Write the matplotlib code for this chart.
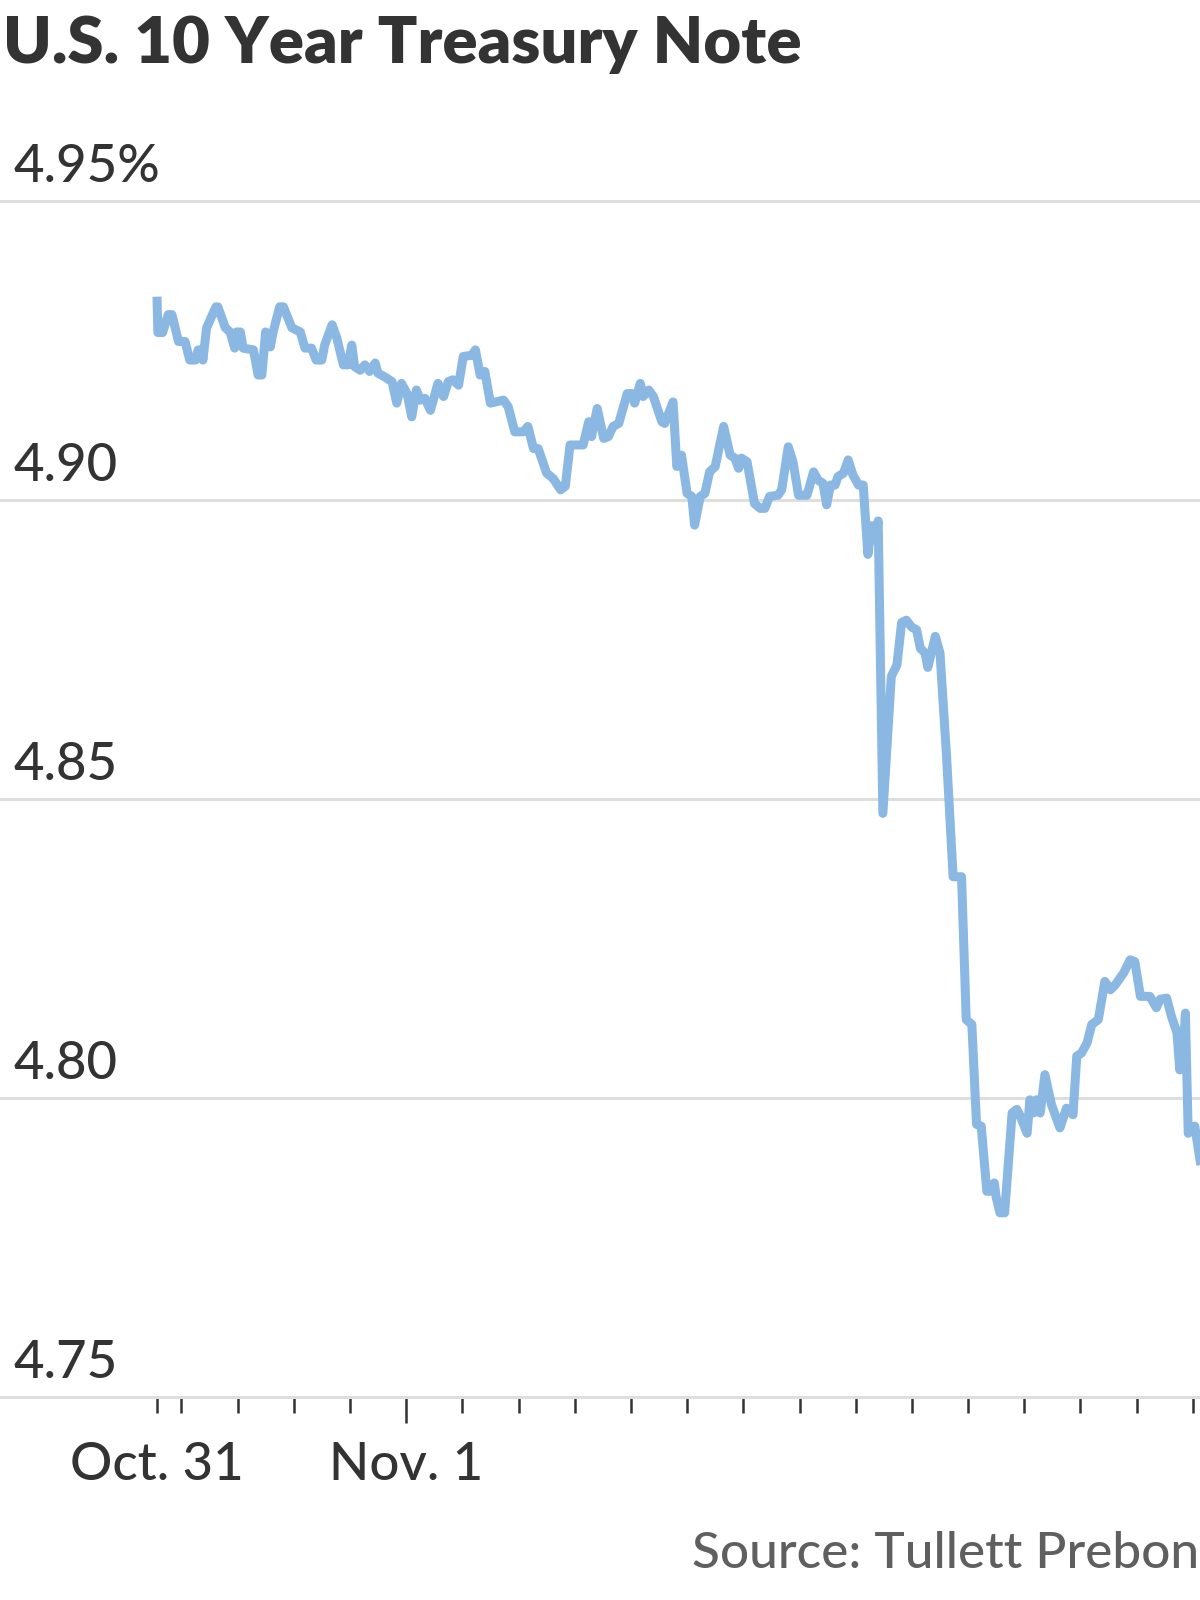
import matplotlib
matplotlib.use("Agg")
import matplotlib.pyplot as plt
import matplotlib.transforms as mtransforms
import pandas as pd

plt.rcParams['font.family'] = ['Lato', 'DejaVu Sans']

title = "U.S. 10 Year Treasury Note"
source = "Source: Tullett Prebon"

oct31 = ["19:34", "19:35", "19:40", "19:46", "19:50", "19:57", "20:04", "20:09", "20:15", "20:18",
         "20:22", "20:23", "20:27", "20:37", "20:39", "20:47", "20:52", "20:57", "20:59", "21:03",
         "21:06", "21:17", "21:22", "21:26", "21:30", "21:35", "21:38", "21:45", "21:49", "21:58",
         "22:07", "22:12", "22:19", "22:24", "22:30", "22:33", "22:41", "22:46", "22:53", "22:58",
         "23:02", "23:05", "23:11", "23:16", "23:21", "23:27", "23:30", "23:37", "23:45", "23:50",
         "23:55"]
oct31_yield = [4.934, 4.928, 4.928, 4.931, 4.931, 4.9265, 4.9265, 4.9234, 4.9234, 4.9251,
               4.9251, 4.9234, 4.9288, 4.9323, 4.9323, 4.9288, 4.9281, 4.9254, 4.9281, 4.9281,
               4.9254, 4.9251, 4.9209, 4.9209, 4.9281, 4.9256, 4.9281, 4.9323, 4.9323, 4.9288,
               4.9281, 4.9254, 4.9254, 4.9234, 4.9234, 4.9259, 4.9293, 4.9271, 4.9226, 4.9226,
               4.9259, 4.9223, 4.9217, 4.9226, 4.9215, 4.9229, 4.9212, 4.9206, 4.9198, 4.9162,
               4.9195]

nov1 = ["00:01", "00:06", "00:11", "00:15", "00:20", "00:26", "00:34", "00:40", "00:45", "00:50",
        "00:56", "01:01", "01:10", "01:14", "01:19", "01:24", "01:30", "01:44", "01:49", "01:56",
        "02:05", "02:10", "02:16", "02:21", "02:30", "02:37", "02:45", "02:50", "02:55", "03:09",
        "03:15", "03:18", "03:24", "03:31", "03:36", "03:41", "03:47", "03:56", "04:01", "04:04",
        "04:10", "04:13", "04:19", "04:24", "04:33", "04:36", "04:45", "04:49", "04:54", "05:00",
        "05:05", "05:08", "05:14", "05:19", "05:24", "05:30", "05:39", "05:46", "05:51", "05:55",
        "05:58", "06:04", "06:12", "06:18", "06:23", "06:28", "06:37", "06:41", "06:48", "06:53",
        "06:59", "07:08", "07:15", "07:20", "07:25", "07:29", "07:33", "07:38", "07:41", "07:47",
        "07:52", "07:57", "08:03", "08:08", "08:13", "08:17", "08:21", "08:24", "08:29", "08:38",
        "08:44", "08:49", "08:54", "09:00", "09:05", "09:09", "09:14", "09:17", "09:25", "09:30",
        "09:37", "09:44", "09:53", "09:58", "10:04", "10:09", "10:14", "10:20", "10:23", "10:28",
        "10:30", "10:34", "10:39", "10:47", "10:52", "10:55", "11:03", "11:06", "11:10", "11:13",
        "11:17", "11:22", "11:29", "11:38", "11:45", "11:52", "11:56", "12:01", "12:07", "12:12",
        "12:19", "12:26", "12:32", "12:37", "12:46", "12:53", "12:58", "13:04", "13:14", "13:21",
        "13:25", "13:32", "13:37", "13:43", "13:46", "13:50", "13:52", "13:55", "14:02", "14:08",
        "14:12"]
nov1_yield = [4.9178, 4.9139, 4.9184, 4.9167, 4.9170, 4.9150, 4.9195, 4.9173, 4.9198, 4.9201,
              4.9192, 4.9240, 4.9242, 4.9251, 4.9209, 4.9215, 4.9162, 4.9167, 4.9156, 4.9114,
              4.9114, 4.9123, 4.9086, 4.9086, 4.9045, 4.9036, 4.9017, 4.9023, 4.9092, 4.9092,
              4.9131, 4.9106, 4.9153, 4.9103, 4.9106, 4.9123, 4.9128, 4.9178, 4.9178, 4.9162,
              4.9195, 4.9173, 4.9184, 4.9173, 4.9131, 4.9128, 4.9164, 4.9056, 4.9075, 4.9011,
              4.9006, 4.8958, 4.9006, 4.9011, 4.9047, 4.9056, 4.9123, 4.9075, 4.9070, 4.9053,
              4.9070, 4.9064, 4.8994, 4.8986, 4.8986, 4.9006, 4.9008, 4.9017, 4.9089, 4.9064,
              4.9008, 4.9008, 4.9047, 4.9033, 4.9028, 4.8992, 4.9025, 4.9025, 4.9039, 4.9045,
              4.9067, 4.9042, 4.9025, 4.9025, 4.8909, 4.8957, 4.8933, 4.8965, 4.8476, 4.8705,
              4.8724, 4.8795, 4.8799, 4.8787, 4.8783, 4.8752, 4.8744, 4.8720, 4.8772, 4.8744,
              4.8571, 4.8370, 4.8370, 4.8131, 4.8123, 4.7956, 4.7953, 4.7844, 4.7844, 4.7858,
              4.7834, 4.7808, 4.7808, 4.7975, 4.7981, 4.7972, 4.7941, 4.7997, 4.7975, 4.7997,
              4.7975, 4.8039, 4.7989, 4.7950, 4.7983, 4.7972, 4.8070, 4.8075, 4.8092, 4.8123,
              4.8131, 4.8195, 4.8181, 4.8189, 4.8209, 4.8231, 4.8228, 4.8170, 4.8170, 4.8151,
              4.8165, 4.8167, 4.8137, 4.8109, 4.8047, 4.8089, 4.8142, 4.7941, 4.7953, 4.7892,
              4.7870]

y_ticks = [4.75, 4.80, 4.85, 4.90, 4.95]
y_tick_labels = ["4.75", "4.80", "4.85", "4.90", "4.95%"]
x_tick_labels = ["Oct. 31", "Nov. 1"]

times = pd.to_datetime(["2023-10-31 " + t for t in oct31] + ["2023-11-01 " + t for t in nov1])
yields = oct31_yield + nov1_yield

W, H = 1200, 1600
fig = plt.figure(figsize=(12, 16), dpi=100)
fig.patch.set_facecolor("white")
ax = fig.add_axes([0, (H - 1397) / H, 1, (1397 - 201) / H])

ax.plot(times, yields, color="#8ab8e3", lw=6.5, solid_joinstyle="round",
        solid_capstyle="butt", zorder=3)

ax.set_xlim(pd.Timestamp("2023-10-31 16:46:25"), pd.Timestamp("2023-11-01 14:07:35"))
ax.set_ylim(4.75, 4.95)

for s in ax.spines.values():
    s.set_visible(False)

ax.set_yticks(y_ticks)
ax.tick_params(axis="y", length=0, labelleft=False)
ax.yaxis.grid(True, color="#dedede", lw=2.2)
ax.xaxis.grid(False)
ax.set_axisbelow(True)
for gl in ax.get_ygridlines():
    gl.set_clip_on(False)

label_kw = dict(fontsize=38, color="#333333", fontweight="medium")

trans = mtransforms.blended_transform_factory(ax.transAxes, ax.transData)
trans = mtransforms.offset_copy(trans, fig=fig, x=0, y=19 * 0.72, units="points")
for v, lab in zip(y_ticks, y_tick_labels):
    ax.text(14 / W, v, lab, transform=trans, ha="left", va="baseline", **label_kw)

major_ticks = [times[0], pd.Timestamp("2023-11-01 00:00")]
minor_ticks = list(pd.date_range("2023-10-31 20:00", "2023-11-01 14:00", freq="h"))
ax.set_xticks(major_ticks)
ax.set_xticklabels(x_tick_labels, **label_kw)
ax.set_xticks(minor_ticks, minor=True)
ax.tick_params(axis="x", which="both", direction="out", color="#333333", width=1.8)
ax.tick_params(axis="x", which="major", length=11.5, pad=21)
ax.tick_params(axis="x", which="minor", length=11.5)
ax.xaxis.get_major_ticks()[1].tick1line.set_markersize(18.7)

fig.text(3 / W, 1 - 63 / H, title, ha="left", va="baseline", fontsize=47,
         fontweight="heavy", color="#333333")
fig.text(1199 / W, 1 - 1568 / H, source, ha="right", va="baseline", fontsize=37,
         color="#5f5f5f", fontweight="medium")

fig.savefig("out.png", dpi=100, facecolor="white")
